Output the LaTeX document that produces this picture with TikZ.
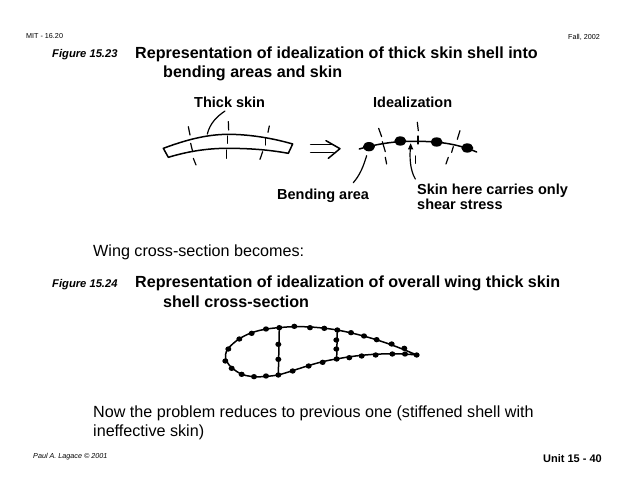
\documentclass[tikz,border=0pt]{standalone}
\usepackage{fontspec}
\setmainfont{Liberation Sans}
\tikzset{
 txt/.style={inner sep=0pt,anchor=base west,align=left},
 small/.style={txt,font=\fontsize{7.2}{10}\selectfont},
 fig/.style={txt,font=\fontsize{11.2}{13}\selectfont\itshape\bfseries},
 head/.style={txt,font=\fontsize{16.1}{18}\selectfont\bfseries},
 lab/.style={txt,font=\fontsize{14.5}{16}\selectfont\bfseries},
 body/.style={txt,font=\fontsize{16.15}{18}\selectfont},
 ink/.style={line width=1.5pt,line cap=round,line join=round,black},
 thin ink/.style={line width=1.2pt,line cap=round,black},
 blob/.style={fill=black,draw=none},
}
\begin{document}
\begin{tikzpicture}[x=1pt,y=-1pt]
\useasboundingbox (0,0) rectangle (638,493);
\fill[white] (0,0) rectangle (638,493);
\node[small] (mit) at (26,38) {MIT - 16.20};
\node[small,anchor=base east] (fall) at (600,39) {Fall, 2002};
\node[fig] (f1) at (52,57) {Figure 15.23};
\node[head] (h1) at (135,58) {Representation of idealization of thick skin shell into};
\node[head] (h1b) at (163,77) {bending areas and skin};
\node[lab] (ts) at (194,107) {Thick skin};
\node[lab] (id) at (373,107) {Idealization};
\node[lab] (ba) at (277,199) {Bending area};
\node[lab] (sk) at (417,194) {Skin here carries only};
\node[lab] (sk2) at (417,209.5) {shear stress};
\node[body] (w) at (93,256.5) {Wing cross-section becomes:};
\node[fig] (f2) at (52,287) {Figure 15.24};
\node[head] (h2) at (135,287) {Representation of idealization of overall wing thick skin};
\node[head] (h2b) at (163,307.5) {shell cross-section};
\node[body] (n1) at (93,417.5) {Now the problem reduces to previous one (stiffened shell with};
\node[body] (n2) at (93,436) {ineffective skin)};
\node[txt,font=\fontsize{7.2}{10}\selectfont\itshape] (pl) at (33,458) {Paul A. Lagace © 2001};
\node[txt,anchor=base east,font=\fontsize{11}{14}\selectfont\bfseries] (un) at (602,462) {Unit 15 - 40};
% thick skin
\begin{scope}[shift={(150,100)},x=0.3333pt,y=-0.3333pt]
\draw[ink] (40,145) .. controls (120,115) and (180,103) .. (235,103) .. controls (300,103) and (370,115) .. (428,132) -- (415,160) .. controls (350,148) and (290,145) .. (230,145) .. controls (170,145) and (110,155) .. (55,172) -- cycle;
\foreach \a/\b/\c/\d in {115/80/120/105, 122/130/128/155, 130/175/138/195, 235/65/236/90, 232/108/232/130, 230/150/230/175, 358/78/354/97, 346/115/346/135, 338/155/330/178}
 \draw[thin ink] (\a,\b) -- (\c,\d);
\draw[thin ink] (172,102) .. controls (180,70) and (200,50) .. (225,33);
% arrow
\draw[ink] (482,133) -- (550,133) (482,158) -- (550,158);
\draw[ink] (528,122) -- (570,146) -- (535,175);
% idealization
\draw[ink] (628,147) .. controls (680,132) and (740,122) .. (800,124) .. controls (860,124) and (920,130) .. (980,156);
\foreach \x/\y in {657/140,751/123,860/126,952/144}
 \fill[blob] (\x,\y) ellipse (18 and 14);
\foreach \a/\b/\c/\d in {686/85/695/110, 697/125/706/155, 706/172/710/192, 802/67/805/92, 804/108/804/132, 797/168/797/190, 930/92/922/118, 910/140/905/157, 895/172/888/192}
 \draw[thin ink] (\a,\b) -- (\c,\d);
\draw[thin ink] (650,167) .. controls (640,200) and (630,225) .. (610,248);
\draw[thin ink] (796,237) .. controls (780,210) and (778,170) .. (782,135);
\fill (782,130) -- (774,148) -- (790,148) -- cycle;
\end{scope}
% wing
\begin{scope}[shift={(210,315)},x=0.3333pt,y=-0.3333pt]
\draw[ink] (620,120) .. controls (540,85) and (470,62) .. (382,45) .. controls (320,35) and (260,32) .. (208,38) .. controls (140,42) and (90,60) .. (55,100) .. controls (35,125) and (50,155) .. (95,178) .. controls (130,190) and (170,185) .. (205,180) .. controls (260,165) and (320,140) .. (380,132) .. controls (450,118) and (540,112) .. (620,120);
\draw[ink] (208,38) -- (205,180) (382,45) -- (380,132);
\foreach \x/\y in {168/42,208/38,253/34,300/38,343/40,382/45,423/53,462/63,500/74,545/87,583/100,620/120,
 125/55,88/72,55/102,46/138,65/160,95/178,132/185,168/183,205/180,248/168,296/153,338/142,380/132,418/128,455/123,497/120,547/117,585/117,
 205/88,205/133,379/75,379/102}
 \fill[blob] (\x,\y) ellipse (9 and 8);
\end{scope}
\end{tikzpicture}
\end{document}
